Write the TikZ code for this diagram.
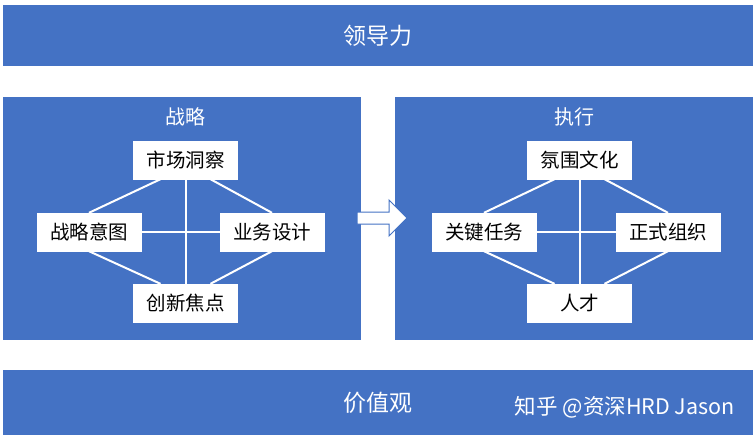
\documentclass[tikz,border=0pt]{standalone}
\usepackage{fontspec}
\setmainfont{Noto Sans CJK SC}
\usetikzlibrary{shapes.arrows}
\definecolor{bl}{HTML}{4472C4}
\begin{document}
\begin{tikzpicture}[x=1pt,y=-1pt,
 panel/.style={fill=bl,draw=none},
 box/.style={fill=white,draw=white,minimum width=104pt,minimum height=38pt,font=\fontsize{19.5}{22}\selectfont,inner sep=0pt},
 ln/.style={draw=white,line width=2pt},
 ttl/.style={text=white,font=\fontsize{20}{23}\selectfont}]
\useasboundingbox (0,0) rectangle (756,440);
\fill[white] (0,0) rectangle (756,440);
\fill[panel] (3,5) rectangle (753,66);
\node[ttl,font=\fontsize{23}{26}\selectfont] (lead) at (378,36) {领导力};
\fill[panel] (3,97) rectangle (361,340);
\fill[panel] (395,97) rectangle (753,340);
\fill[panel] (3,370) rectangle (753,435);
\node[ttl,font=\fontsize{23}{26}\selectfont] (val) at (378,403) {价值观};
\node[text=white,font=\fontsize{21.5}{24}\selectfont,anchor=east,inner sep=0pt] (wm) at (735,407) {知乎 @资深HRD Jason};
\node[ttl] (s) at (185,117) {战略};
\node[ttl] (e) at (574,117) {执行};
% left
\node[box] (a1) at (185.5,160) {市场洞察};
\node[box] (a2) at (89,232) {战略意图};
\node[box] (a3) at (272,232) {业务设计};
\node[box] (a4) at (185.5,303) {创新焦点};
\draw[ln] (a1.south) -- (a4.north);
\draw[ln] (a2.east) -- (a3.west);
\draw[ln] ([xshift=-25pt]a1.south) -- (a2.north);
\draw[ln] ([xshift=25pt]a1.south) -- (a3.north);
\draw[ln] (a2.south) -- ([xshift=-25pt]a4.north);
\draw[ln] (a3.south) -- ([xshift=25pt]a4.north);
% right
\node[box] (b1) at (579.5,160) {氛围文化};
\node[box] (b2) at (484,232) {关键任务};
\node[box] (b3) at (668,232) {正式组织};
\node[box] (b4) at (579.5,303) {人才};
\draw[ln] (b1.south) -- (b4.north);
\draw[ln] (b2.east) -- (b3.west);
\draw[ln] ([xshift=-25pt]b1.south) -- (b2.north);
\draw[ln] ([xshift=25pt]b1.south) -- (b3.north);
\draw[ln] (b2.south) -- ([xshift=-25pt]b4.north);
\draw[ln] (b3.south) -- ([xshift=25pt]b4.north);
\node[single arrow,draw=bl,fill=white,line width=1pt,minimum height=50pt,minimum width=36pt,single arrow head extend=3pt,inner sep=1pt] (arr) at (379,218) {};
\end{tikzpicture}
\end{document}
